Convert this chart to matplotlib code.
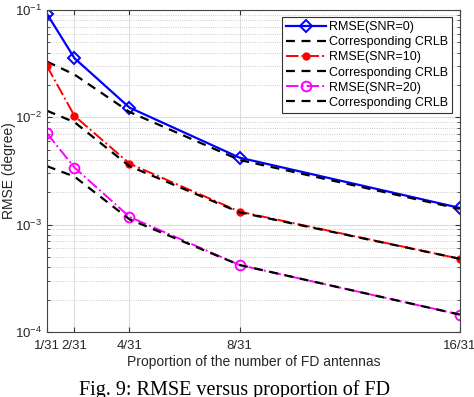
import numpy as np
import matplotlib
matplotlib.use("Agg")
import matplotlib.pyplot as plt
from matplotlib.ticker import LogLocator, NullFormatter

# доля FD антенн (в единицах 1/31)
x = [1, 2, 4, 8, 16]
tick_labels = ["1/31", "2/31", "4/31", "8/31", "16/31"]

rmse_snr0 = [0.092, 0.0355, 0.0123, 0.0042, 0.00143]
crlb_snr0 = [0.033, 0.025, 0.0112, 0.0040, 0.00140]
rmse_snr10 = [0.030, 0.0103, 0.0037, 0.00132, 0.00048]
crlb_snr10 = [0.0115, 0.0090, 0.0035, 0.00130, 0.00048]
rmse_snr20 = [0.0071, 0.0034, 0.00118, 0.00042, 0.000145]
crlb_snr20 = [0.0035, 0.0028, 0.00112, 0.00042, 0.000145]

plt.rcParams['font.family'] = ['Liberation Sans', 'DejaVu Sans']

fig = plt.figure(figsize=(4.74, 3.97), dpi=100)
ax = fig.add_axes([0.099, 0.164, 0.871, 0.811])

ax.plot(x, rmse_snr0, '-', color='#0000ff', lw=1.6, marker='D', ms=6,
        mfc='none', mew=1.4, label="RMSE(SNR=0)")
ax.plot(x, crlb_snr0, '--', color='black', lw=1.6, dashes=(4, 3), label="Corresponding CRLB")
ax.plot(x, rmse_snr10, '-.', color='#ff0000', lw=1.4, marker='o', ms=5,
        label="RMSE(SNR=10)")
ax.plot(x, crlb_snr10, '--', color='black', lw=1.6, dashes=(4, 3), label="Corresponding CRLB")
ax.plot(x, rmse_snr20, '-.', color='#ff00ff', lw=1.4, marker='o', ms=7,
        mfc='none', mew=1.4, label="RMSE(SNR=20)")
ax.plot(x, crlb_snr20, '--', color='black', lw=1.6, dashes=(4, 3), label="Corresponding CRLB")

ax.set_yscale('log')
ax.set_xlim(1, 16)
ax.set_ylim(1e-4, 1e-1)
ax.set_xticks(x)
ax.set_xticklabels(tick_labels)
ax.yaxis.set_minor_locator(LogLocator(base=10, subs=np.arange(2, 10)))
ax.yaxis.set_minor_formatter(NullFormatter())

ax.grid(True, which='major', color='#dddddd', lw=0.8, ls='-')
ax.grid(True, which='minor', axis='y', color='#bbbbbb', lw=0.6, ls=':')
ax.set_axisbelow(True)
ax.tick_params(which='both', direction='in', top=True, right=True,
               labelsize=9.5, colors='#333333', labelcolor='#262626')
ax.tick_params(axis='x', pad=6)
for s in ax.spines.values():
    s.set_color('#444444')

ax.set_xlabel("Proportion of the number of FD antennas", fontsize=10, color='#262626',
              labelpad=2)
ax.set_ylabel("RMSE (degree)", fontsize=10, color='#262626')
ax.yaxis.set_label_coords(-0.076, 0.5)

leg = ax.legend(loc='upper right', fontsize=9, handlelength=3.2, labelspacing=0.25,
                borderpad=0.3, handletextpad=0.3, fancybox=False, framealpha=1,
                edgecolor='#333333', borderaxespad=0.6)
leg.get_frame().set_linewidth(0.8)

fig.text(0.495, 0.042, "Fig. 9: RMSE versus proportion of FD", ha='center', va='top',
         fontsize=14.5, family=['Liberation Serif', 'DejaVu Serif'])

fig.savefig("out.png", dpi=100)
